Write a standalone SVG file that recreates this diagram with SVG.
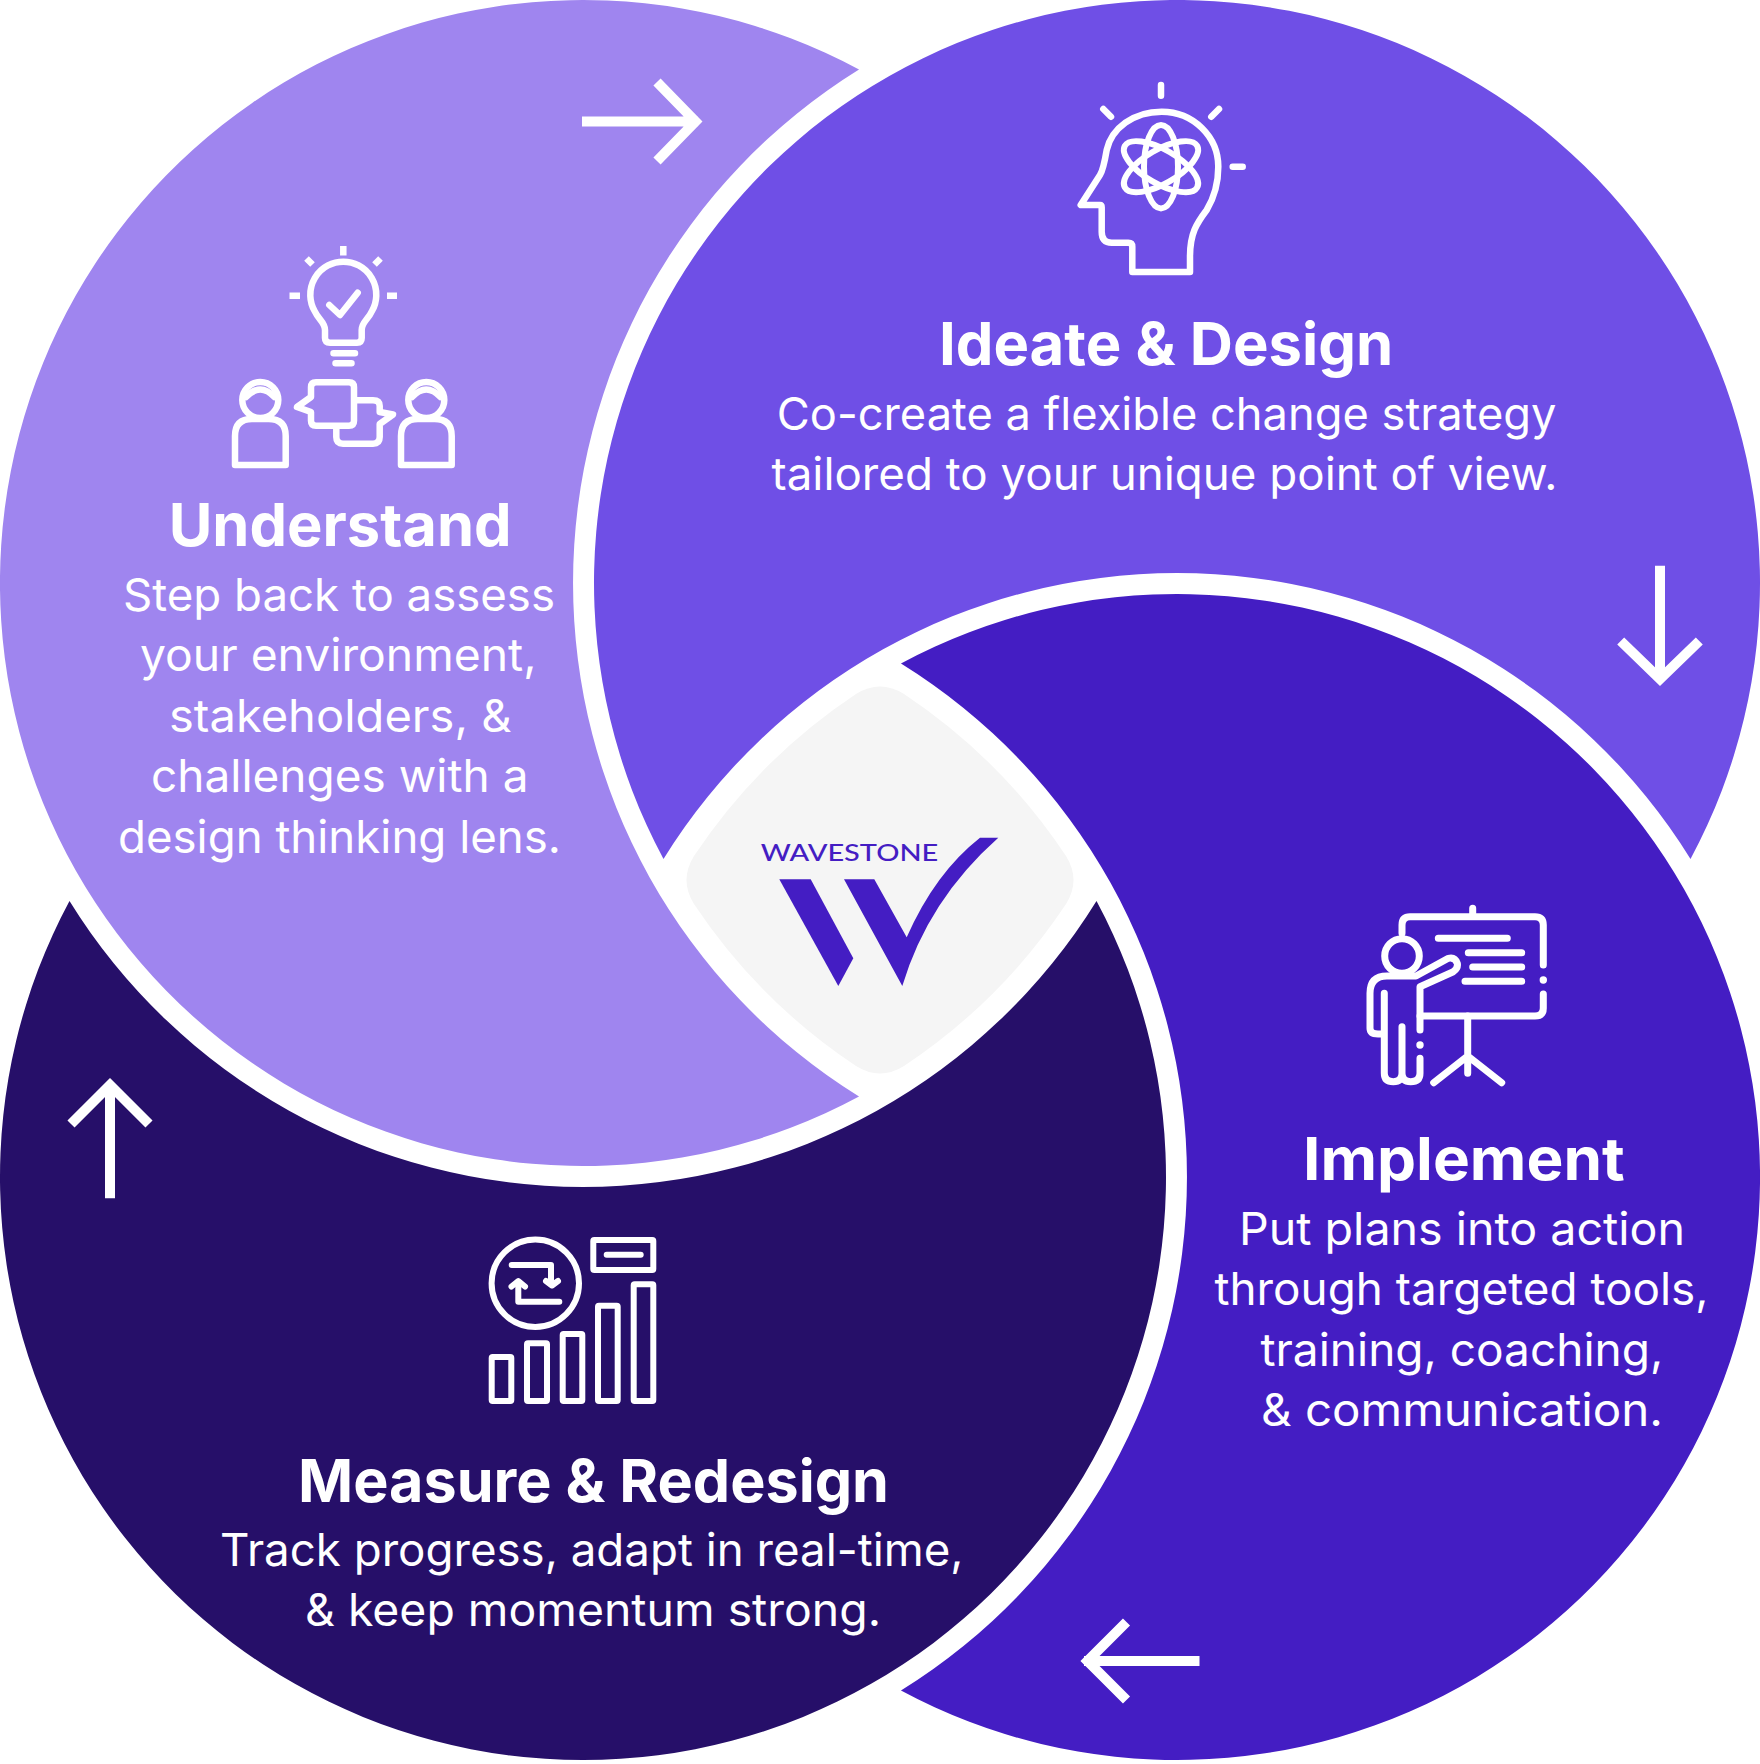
<svg xmlns="http://www.w3.org/2000/svg" width="1760" height="1764" viewBox="0 0 1760 1764">
<style>
text{fill:#fff;font-family:"Inter","Liberation Sans",sans-serif}
.h{font-size:59.5px;font-weight:700}
.b{font-size:45px;font-weight:400}
.i{fill:none;stroke:#fff;stroke-width:6.5;stroke-linecap:round;stroke-linejoin:round}
.a{fill:none;stroke:#fff;stroke-width:10;stroke-linecap:butt;stroke-linejoin:miter}
.d{fill:#fff;stroke:none}
</style>
<rect width="1760" height="1764" fill="#fff"/>
<g id="understand">
<path fill="#9f85ef" d="M859.02 69.5A583 583 0 1 0 859.02 1096.5A604 604 0 0 1 859.02 69.5Z"/>
<g class="i">
<path d="M343.3 246V255.5M289.5 295.7H300M387 295.7H397M306.5 258.5L312.5 264.5M380.5 258.5L374.5 264.5" stroke-linecap="butt"/>
<path d="M330 342.7H357Q361.7 342.7 361.7 338V330C361.7 322 368 320 372 311A33 33 0 1 0 314.6 311C318.6 320 325 322 325 330V338Q325 342.7 330 342.7Z"/>
<path d="M333.5 353.3H355M335.5 363.3H351.5"/>
<path d="M329.3 305L340 315L357.7 292.7"/>
<g id="person-left"><circle cx="260.3" cy="400" r="18"/><path d="M246 397Q260.3 382 274.5 397"/><path d="M235 465V436Q235 419 252 419H268.7Q285.7 419 285.7 436V465Z"/></g>
<g id="person-right" transform="translate(166 0)"><circle cx="260.3" cy="400" r="18"/><path d="M246 397Q260.3 382 274.5 397"/><path d="M235 465V436Q235 419 252 419H268.7Q285.7 419 285.7 436V465Z"/></g>
<path d="M316 382.3H349Q354 382.3 354 387.3V420.7Q354 425.7 349 425.7H316Q311 425.7 311 420.7V412L297 407L311 397V387.3Q311 382.3 316 382.3Z"/>
<path d="M356 400.3H373Q379.7 400.3 379.7 406V412L393 414.5L379.7 424V437Q379.7 443.7 373 443.7H343Q336.3 443.7 336.3 437V427"/>
</g>
<text class="h" x="168.7" y="546" textLength="343" lengthAdjust="spacingAndGlyphs">Understand</text>
<text class="b" x="123" y="610.5" textLength="432" lengthAdjust="spacingAndGlyphs">Step back to assess</text>
<text class="b" x="140" y="671" textLength="396.5" lengthAdjust="spacingAndGlyphs">your environment,</text>
<text class="b" x="169" y="731.5" textLength="342.5" lengthAdjust="spacingAndGlyphs">stakeholders, &amp;</text>
<text class="b" x="151" y="792" textLength="377.5" lengthAdjust="spacingAndGlyphs">challenges with a</text>
<text class="b" x="118" y="852.5" textLength="443" lengthAdjust="spacingAndGlyphs">design thinking lens.</text>
</g>
<g id="ideate">
<path fill="#6f4fe6" d="M1690.5 859.02A583 583 0 1 0 663.5 859.02A604 604 0 0 1 1690.5 859.02Z"/>
<g class="i">
<path d="M1161 85V95.7M1103.3 109L1111 116.7M1219 109L1211.3 116.7M1232.7 166.7H1242.7"/>
<path d="M1080.7 205H1100Q1101.7 205 1101.7 207.3V231.7Q1101.7 242.7 1111.7 242.7H1128.3Q1132.3 242.7 1132.3 246.7V272H1190V256.7C1190 233.3 1196.7 223.3 1206.7 210C1216.7 193.3 1218.3 176.7 1218.3 166.7C1218.3 136.7 1193.3 111.7 1161.7 111.7C1133.3 111.7 1111.7 128.3 1106.7 150C1105 160 1103.3 170 1100 175Z"/>
<g style="stroke-width:6"><ellipse cx="1161" cy="166.7" rx="17" ry="41.7"/><ellipse cx="1161" cy="166.7" rx="17" ry="41.7" transform="rotate(60 1161 166.7)"/><ellipse cx="1161" cy="166.7" rx="17" ry="41.7" transform="rotate(120 1161 166.7)"/></g>
</g>
<text class="h" x="938.9" y="365" textLength="454.4" lengthAdjust="spacingAndGlyphs">Ideate &amp; Design</text>
<text class="b" x="776.8" y="429.5" textLength="779.7" lengthAdjust="spacingAndGlyphs">Co-create a flexible change strategy</text>
<text class="b" x="771.5" y="490" textLength="786" lengthAdjust="spacingAndGlyphs">tailored to your unique point of view.</text>
</g>
<g id="implement">
<path fill="#441dc3" d="M900.98 663.5A583 583 0 1 1 900.98 1690.5A604 604 0 0 0 900.98 663.5Z"/>
<g class="i" style="stroke-width:7">
<path d="M1402 933.3V925Q1402 916.7 1410 916.7H1535Q1543.3 916.7 1543.3 925V965M1472.7 908.3V916.7M1543.3 994V1008.3Q1543.3 1016 1535 1016H1420"/>
<path d="M1438.3 938.3H1507.3M1468.3 952.7H1521.7M1472.7 967H1521.7M1465 981.3H1521.7"/>
<path d="M1467.7 1016V1073.3M1433.7 1082.7L1467.7 1056L1501.7 1082.7"/>
<circle cx="1402" cy="956" r="17.3"/>
<path d="M1383.3 1034H1378Q1370 1034 1370 1028.3V993.3Q1370 976 1387 976H1416L1448.3 958.3Q1455 956.7 1457.3 963.3Q1458.3 968.3 1453.3 971.7L1420 986.7V1030"/>
<path d="M1384.3 993.3V1073.3Q1384.3 1081.7 1393.3 1081.7Q1402 1081.7 1402 1073.3V1026.7M1402 1073.3Q1402 1081.7 1410.7 1081.7Q1420 1081.7 1420 1073.3V1058.3"/>
</g>
<circle class="d" cx="1543.3" cy="980" r="3.7"/><circle class="d" cx="1420" cy="1045" r="3.7"/>
<text class="h" x="1303" y="1180" textLength="321.7" lengthAdjust="spacingAndGlyphs">Implement</text>
<text class="b" x="1239" y="1245" textLength="446" lengthAdjust="spacingAndGlyphs">Put plans into action</text>
<text class="b" x="1214.5" y="1305" textLength="494" lengthAdjust="spacingAndGlyphs">through targeted tools,</text>
<text class="b" x="1260.5" y="1366" textLength="402.7" lengthAdjust="spacingAndGlyphs">training, coaching,</text>
<text class="b" x="1261" y="1426" textLength="402" lengthAdjust="spacingAndGlyphs">&amp; communication.</text>
</g>
<g id="measure">
<path fill="#260f69" d="M1096.5 900.98A583 583 0 1 1 69.5 900.98A604 604 0 0 0 1096.5 900.98Z"/>
<g class="i" style="stroke-width:6">
<circle cx="535.3" cy="1283.3" r="43.7"/>
<path d="M511.7 1265H551V1284M559.3 1301.7H518.3V1284"/>
<path d="M546 1281L552 1285.5L558 1281M511.5 1286.5L518.3 1281L525 1286.5"/>
<rect x="593.3" y="1240" width="60" height="30" rx="1"/>
<path d="M606.7 1254.7H640.7"/>
<rect x="491.7" y="1357" width="19.6" height="44" rx="1"/>
<rect x="527" y="1343.3" width="20" height="57.7" rx="1"/>
<rect x="562.7" y="1334" width="19.6" height="67" rx="1"/>
<rect x="598" y="1305.7" width="19.7" height="95.3" rx="1"/>
<rect x="633.7" y="1284.3" width="19.6" height="116.7" rx="1"/>
</g>
<text class="h" x="298" y="1502" textLength="591" lengthAdjust="spacingAndGlyphs">Measure &amp; Redesign</text>
<text class="b" x="220" y="1565.5" textLength="743.5" lengthAdjust="spacingAndGlyphs">Track progress, adapt in real-time,</text>
<text class="b" x="305" y="1625.5" textLength="576" lengthAdjust="spacingAndGlyphs">&amp; keep momentum strong.</text>
</g>
<g id="logo">
<path fill="#f5f5f5" d="M856 694Q880 679 904 694A580 580 0 0 1 1066 856Q1081 880 1066 904A580 580 0 0 1 904 1066Q880 1081 856 1066A580 580 0 0 1 694 904Q679 880 694 856A580 580 0 0 1 856 694Z"/>
<path fill="#441dc3" d="M779.3 879.3H810.7L853.3 958.3L838.3 986Z"/>
<path fill="#441dc3" d="M844 879.3H874.3L906.7 937.3Q935 873 980 837.7H998.3Q928 900 902.3 986Z"/>
<text x="760.7" y="861" textLength="177.6" lengthAdjust="spacingAndGlyphs" style="fill:#441dc3;font-family:'Lato','Liberation Sans',sans-serif;font-size:23px;font-weight:500">WAVESTONE</text>
</g>
<g id="connectors" class="a">
<path d="M582 121.5H698M657 82L695.5 121.5L657 161"/>
<path d="M1660 565.7V680M1620.7 641L1660 679L1699.3 641"/>
<path d="M1199.5 1661H1084M1126.5 1622L1087.5 1661L1126.5 1700"/>
<path d="M110 1198.3V1085M71 1124L110 1085L149 1124"/>
</g>
</svg>
